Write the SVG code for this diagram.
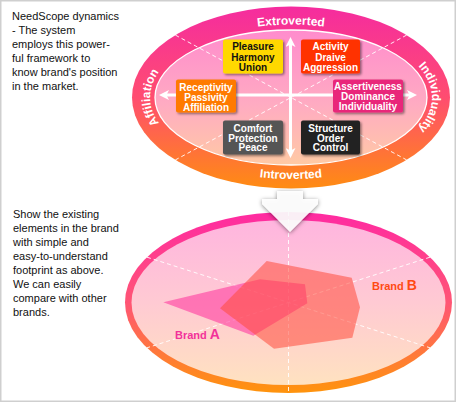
<svg xmlns="http://www.w3.org/2000/svg" width="459" height="403" viewBox="0 0 459 403">
<style>
.body{font-family:"Liberation Sans",Arial,sans-serif;font-size:11px;fill:#111}
.bt{font-family:"Liberation Sans",Arial,sans-serif;font-size:10px;font-weight:bold;fill:#fff;text-anchor:middle}
.rl{font-family:"Liberation Sans",Arial,sans-serif;font-size:12px;font-weight:bold;fill:#fff;text-anchor:middle}
.dash{stroke:#fff;stroke-width:1;stroke-dasharray:4 3;fill:none;opacity:0.9}
.arr{stroke:#fff;stroke-width:3;fill:none}
.brand{font-family:"Liberation Sans",Arial,sans-serif;font-weight:bold;font-size:11px}
</style>
<defs>
<linearGradient id="ring1" x1="0" y1="0" x2="0" y2="1">
<stop offset="0" stop-color="#f52c9f"/>
<stop offset="0.5" stop-color="#ff4d70"/>
<stop offset="1" stop-color="#ff8c12"/>
</linearGradient>
<linearGradient id="in1" x1="0" y1="0" x2="0" y2="1">
<stop offset="0" stop-color="#ff8ccd"/>
<stop offset="0.55" stop-color="#ffabc2"/>
<stop offset="1" stop-color="#ffcaa4"/>
</linearGradient>
<linearGradient id="ring2" x1="0" y1="0" x2="0" y2="1">
<stop offset="0" stop-color="#ff2aa2"/>
<stop offset="0.5" stop-color="#ff5575"/>
<stop offset="1" stop-color="#ff940c"/>
</linearGradient>
<linearGradient id="in2" x1="0" y1="0" x2="0" y2="1">
<stop offset="0" stop-color="#ffb5df"/>
<stop offset="0.5" stop-color="#ffcad3"/>
<stop offset="1" stop-color="#ffe2c0"/>
</linearGradient>
<filter id="sh" x="-10%" y="-10%" width="130%" height="140%">
<feDropShadow dx="1.5" dy="1.5" stdDeviation="1" flood-color="#000" flood-opacity="0.45"/>
</filter>
<filter id="sh2" x="-30%" y="-30%" width="160%" height="160%">
<feDropShadow dx="0" dy="1" stdDeviation="2.2" flood-color="#000" flood-opacity="0.5"/>
</filter>
<marker id="ah" viewBox="0 0 10 10" refX="4" refY="5" markerWidth="10" markerHeight="10" markerUnits="userSpaceOnUse" orient="auto-start-reverse">
<path d="M0,0 L10,5 L0,10 L2.5,5 Z" fill="#fff"/>
</marker>
<path id="pTop" d="M168.9,61 A141,73 0 0 1 413.1,61"/>
<path id="pRight" d="M361.5,34.3 A141,73 0 0 1 361.5,160.7"/>
<path id="pLeft" d="M220.5,160.7 A141,73 0 0 1 220.5,34.3"/>
<path id="pBot" d="M161.1,138.25 A150,81.5 0 0 0 420.9,138.25"/>
</defs>
<rect x="0" y="0" width="459" height="403" fill="#fff"/>
<rect x="0.75" y="0.75" width="454.5" height="400.5" fill="none" stroke="#cfcfcf" stroke-width="1.5"/>

<g id="intro-text">
<text class="body" x="12" y="20">NeedScope dynamics</text>
<text class="body" x="12" y="34">- The system</text>
<text class="body" x="12" y="48">employs this power-</text>
<text class="body" x="12" y="62">ful framework to</text>
<text class="body" x="12" y="76">know brand's position</text>
<text class="body" x="12" y="90">in the market.</text>
</g>

<g id="footprint-text">
<text class="body" x="13" y="218">Show the existing</text>
<text class="body" x="13" y="232">elements in the brand</text>
<text class="body" x="13" y="246">with simple and</text>
<text class="body" x="13" y="260">easy-to-understand</text>
<text class="body" x="13" y="274">footprint as above.</text>
<text class="body" x="13" y="288">We can easily</text>
<text class="body" x="13" y="302">compare with other</text>
<text class="body" x="13" y="316">brands.</text>
</g>

<g id="framework-ellipse">
<ellipse cx="291" cy="97.5" rx="159" ry="91" fill="url(#ring1)"/>
<ellipse cx="291" cy="97.5" rx="136" ry="67.5" fill="url(#in1)" stroke="#fff" stroke-width="1.3"/>
<text class="rl"><textPath href="#pTop" startOffset="50%">Extroverted</textPath></text>
<text class="rl"><textPath href="#pRight" startOffset="50%">Individuality</textPath></text>
<text class="rl"><textPath href="#pLeft" startOffset="50%">Affiliation</textPath></text>
<text class="rl"><textPath href="#pBot" startOffset="50%">Introverted</textPath></text>
</g>

<g id="connectors">
<line class="dash" x1="175.4" y1="35.1" x2="406.6" y2="159.9"/>
<line class="dash" x1="406.6" y1="35.1" x2="175.4" y2="159.9"/>
<line class="arr" x1="290.5" y1="43" x2="290.5" y2="152" marker-start="url(#ah)" marker-end="url(#ah)"/>
<line class="arr" x1="165" y1="95" x2="411" y2="95" marker-start="url(#ah)" marker-end="url(#ah)"/>
</g>

<g id="pleasure">
<rect x="223" y="39.5" width="60" height="34" rx="2" fill="#ffd800" filter="url(#sh)"/>
<text class="bt" style="fill:#111" x="253" y="50.3">Pleasure</text>
<text class="bt" style="fill:#111" x="253" y="60.5">Harmony</text>
<text class="bt" style="fill:#111" x="253" y="70.7">Union</text>
</g>
<g id="activity">
<rect x="301" y="39.5" width="59" height="34" rx="2" fill="#ff3300" filter="url(#sh)"/>
<text class="bt" x="330.5" y="50.3">Activity</text>
<text class="bt" x="330.5" y="60.5">Draive</text>
<text class="bt" x="330.5" y="70.7">Aggression</text>
</g>
<g id="receptivity">
<rect x="176" y="79.5" width="60" height="33" rx="2" fill="#ff7a00" filter="url(#sh)"/>
<text class="bt" x="206" y="91">Receptivity</text>
<text class="bt" x="206" y="101">Passivity</text>
<text class="bt" x="206" y="110.5">Affiliation</text>
</g>
<g id="assertiveness">
<rect x="333" y="79.5" width="70" height="33" rx="2" fill="#e9287a" filter="url(#sh)"/>
<text class="bt" x="368" y="90">Assertiveness</text>
<text class="bt" x="368" y="100">Dominance</text>
<text class="bt" x="368" y="110">Individuality</text>
</g>
<g id="comfort">
<rect x="223" y="120.5" width="60" height="34" rx="2" fill="#555555" filter="url(#sh)"/>
<text class="bt" x="253" y="131.5">Comfort</text>
<text class="bt" x="253" y="141.5">Protection</text>
<text class="bt" x="253" y="151.3">Peace</text>
</g>
<g id="structure">
<rect x="301" y="120.5" width="59" height="34" rx="2" fill="#232323" filter="url(#sh)"/>
<text class="bt" x="330.5" y="131.5">Structure</text>
<text class="bt" x="330.5" y="141.5">Order</text>
<text class="bt" x="330.5" y="151.3">Control</text>
</g>

<g id="brand-map">
<ellipse cx="288.5" cy="302.5" rx="163.5" ry="90.5" fill="url(#ring2)"/>
<ellipse cx="288.5" cy="302.5" rx="157" ry="82.5" fill="url(#in2)"/>
<line class="dash" x1="288.5" y1="212" x2="288.5" y2="393"/>
<line class="dash" x1="147" y1="257.2" x2="430" y2="347.8"/>
<line class="dash" x1="430" y1="257.2" x2="147" y2="347.8"/>
</g>

<g id="brand-a">
<polygon points="163.3,302.3 260,279.3 305,284.3 307.3,303.3 253.3,335.7" fill="#ff3aa0" fill-opacity="0.6"/>
<text class="brand" x="175" y="339" fill="#f2329a">Brand <tspan font-size="14">A</tspan></text>
</g>
<g id="brand-b">
<polygon points="266.7,261 351.7,277.7 360,307.3 352.3,337.7 274,348.7 220,308.3" fill="#ff4a3a" fill-opacity="0.55"/>
<text class="brand" x="372" y="290" fill="#ff4a14">Brand <tspan font-size="14">B</tspan></text>
</g>

<g id="down-arrow">
<path d="M277,191 L303,191 L303,199 L318,199 L318,204 L290,232 L262,204 L262,199 L277,199 Z" fill="#fff" fill-opacity="0.9" filter="url(#sh2)"/>
</g>
</svg>
